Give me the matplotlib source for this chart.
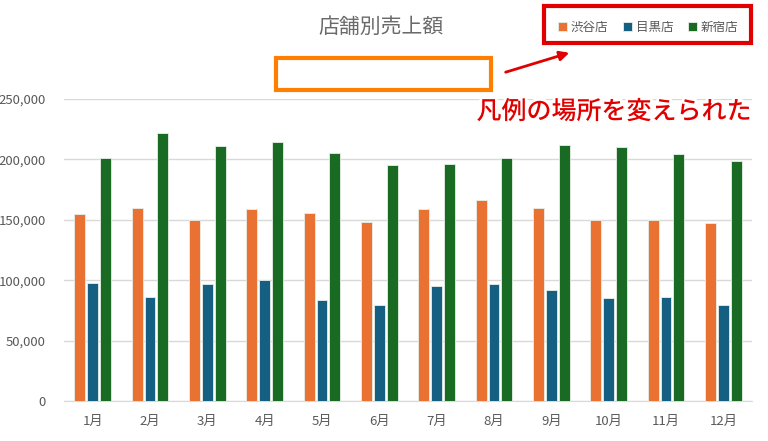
import matplotlib
matplotlib.use('Agg')
import matplotlib.pyplot as plt
import matplotlib.patheffects as pe
from matplotlib.patches import Rectangle, FancyArrowPatch
import numpy as np

plt.rcParams['font.family'] = ['Noto Sans CJK JP', 'DejaVu Sans']

months = ['1月', '2月', '3月', '4月', '5月', '6月',
          '7月', '8月', '9月', '10月', '11月', '12月']
shibuya = [155000, 160000, 150000, 159000, 156000, 148000,
           159000, 166000, 160000, 150000, 150000, 147500]
meguro = [98000, 86500, 96500, 100000, 84000, 79500,
          95500, 96500, 91500, 85000, 86500, 79500]
shinjuku = [201000, 222000, 211500, 214500, 205500, 195500,
            196500, 201500, 212000, 210000, 204500, 198500]
series_names = ['渋谷店', '目黒店', '新宿店']
colors = ['#E97132', '#156082', '#196B24']

fig = plt.figure(figsize=(7.68, 4.41), dpi=100)
ax = fig.add_axes([64 / 768, 1 - 401 / 441, 688 / 768, 302 / 441])

x = np.arange(len(months))
w = 0.19
step = 0.222
for i, (vals, name, c) in enumerate(zip([shibuya, meguro, shinjuku], series_names, colors)):
    ax.bar(x + (i - 1) * step, vals, width=w, color=c, edgecolor='#E8EFE8',
           linewidth=0.6, label=name, zorder=3)

ax.set_xlim(-0.5, len(months) - 0.5)
ax.set_ylim(0, 250000)
ax.set_yticks(np.arange(0, 250001, 50000))
ax.set_yticklabels([f'{v:,}' for v in range(0, 250001, 50000)])
ax.set_xticks(x)
ax.set_xticklabels(months)
ax.tick_params(axis='both', length=0, labelsize=9.5, colors='#595959')
ax.tick_params(axis='x', pad=10)
ax.tick_params(axis='y', pad=13)
ax.grid(axis='y', color='#D9D9D9', linewidth=1, zorder=0)
for s in ['top', 'right', 'left']:
    ax.spines[s].set_visible(False)
ax.spines['bottom'].set_color('#D9D9D9')

fig.text(381 / 768, 1 - 27 / 441, '店舗別売上額', ha='center', va='center',
         fontsize=15, color='#6A6A6A')

fig.legend(loc='center', bbox_to_anchor=(648 / 768, 1 - 27 / 441), ncol=3,
           frameon=False, fontsize=9, handlelength=0.7, handleheight=0.7,
           handletextpad=0.3, columnspacing=1.2, labelcolor='#595959')

# annotation boxes
fig.patches.append(Rectangle((544 / 768, 1 - 43 / 441), 207 / 768, 37 / 441,
                             transform=fig.transFigure, fill=False,
                             edgecolor='#E00000', linewidth=3))
fig.patches.append(Rectangle((276 / 768, 1 - 90 / 441), 215 / 768, 32 / 441,
                             transform=fig.transFigure, fill=False,
                             edgecolor='#FF7F00', linewidth=3))
fig.patches.append(FancyArrowPatch((503 / 768, 1 - 73 / 441), (572 / 768, 1 - 52 / 441),
                                   transform=fig.transFigure, arrowstyle='-|>',
                                   mutation_scale=14, color='#E00000', linewidth=2))

fig.text(614 / 768, 1 - 112 / 441, '凡例の場所を変えられた', ha='center', va='center',
         fontsize=18, color='#E00000', fontweight='medium',
         path_effects=[pe.withSimplePatchShadow(offset=(1.5, -1.5), shadow_rgbFace='#BBBBBB'),
                       pe.withStroke(linewidth=4, foreground='white')])

fig.savefig('out.png', dpi=100)
